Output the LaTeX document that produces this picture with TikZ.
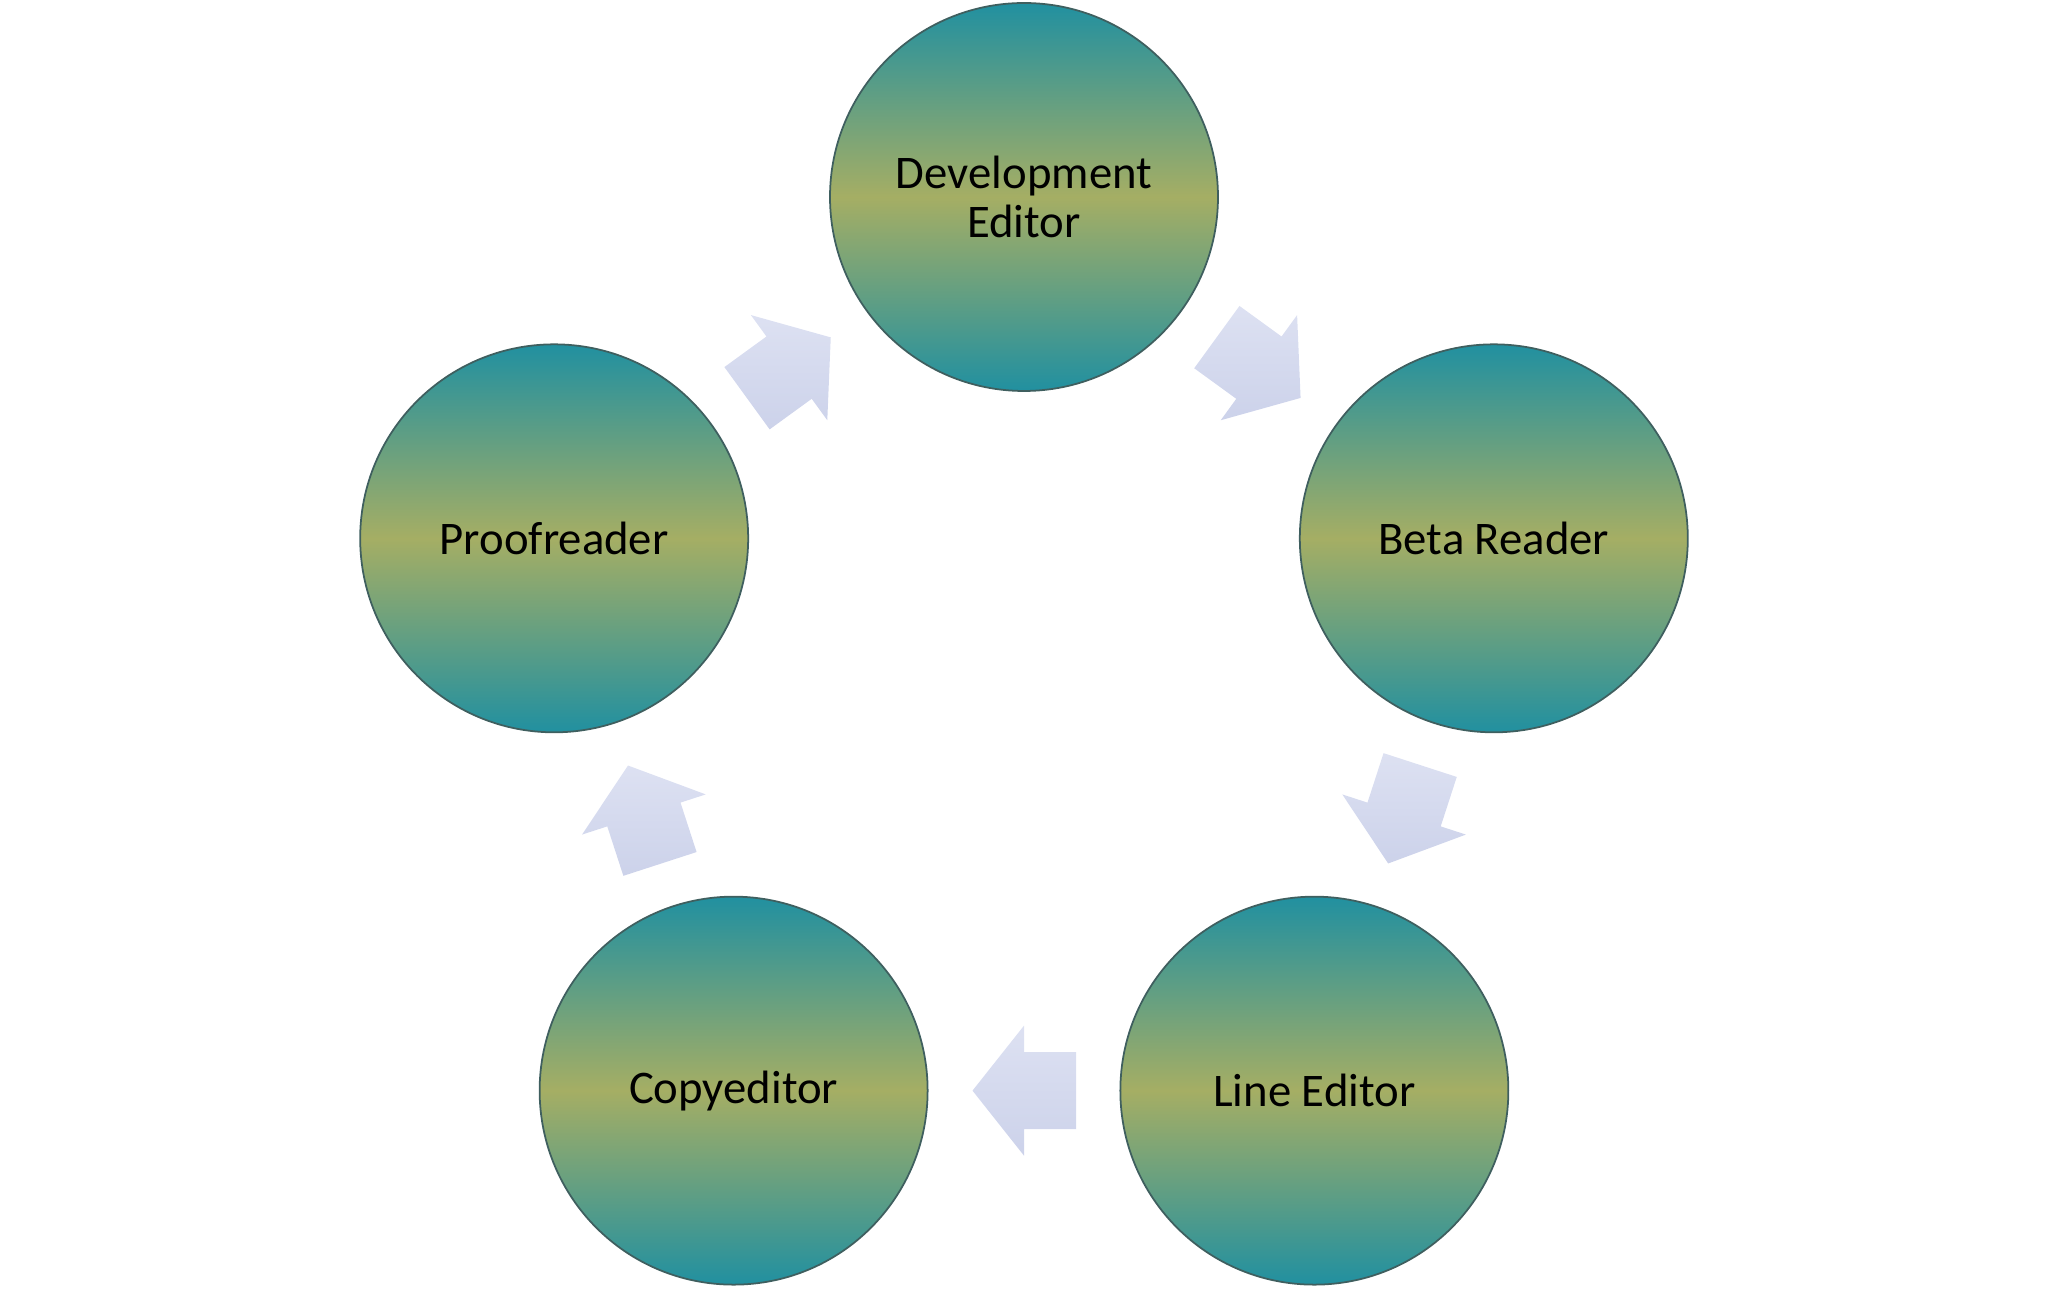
\documentclass[tikz,border=0pt]{standalone}
\usepackage{fontspec}
\setmainfont{Carlito}
\usepackage{tikz}
\usetikzlibrary{calc}
\definecolor{tealtop}{HTML}{2190A0}
\definecolor{olivemid}{HTML}{A5AE64}
\definecolor{rimline}{HTML}{3F5F5F}
\definecolor{arrowtop}{HTML}{DDE1F2}
\definecolor{arrowbot}{HTML}{CCD2EA}

\begin{document}
\begin{tikzpicture}[
	stage/.style={circle,draw=rimline,line width=0.5pt,minimum size=3.88cm,inner sep=0pt,
		top color=tealtop,bottom color=tealtop,middle color=olivemid,
		align=center,font=\fontsize{13.3}{14}\selectfont},
	blockarrow/.style={top color=arrowtop,bottom color=arrowbot}]
	\useasboundingbox (0,0) rectangle (20.48,12.90);
	\coordinate (O) at (10.24,5.99);
	
	\node[stage] (dev) at ($(O)+(90:4.94)$) {Development\\Editor};
	\node[stage] (beta) at ($(O)+(18:4.94)$) {Beta Reader};
	\node[stage] (line) at ($(O)+(-54:4.94)$) {Line Editor};
	\node[stage] (copy) at ($(O)+(-126:4.94)$) {Copyeditor};
	\node[stage] (proof) at ($(O)+(162:4.94)$) {Proofreader};
	
	\foreach \a/\b/\ang in {dev/beta/-36,beta/line/-108,line/copy/180,copy/proof/108,proof/dev/36}{
		\begin{scope}[shift={($(\a)!0.5!(\b)$)},rotate=\ang]
			\path[blockarrow] (-0.52,-0.385)--(0,-0.385)--(0,-0.65)--(0.515,0)
			--(0,0.65)--(0,0.385)--(-0.52,0.385)--cycle;
		\end{scope}
	}
\end{tikzpicture}
\end{document}
